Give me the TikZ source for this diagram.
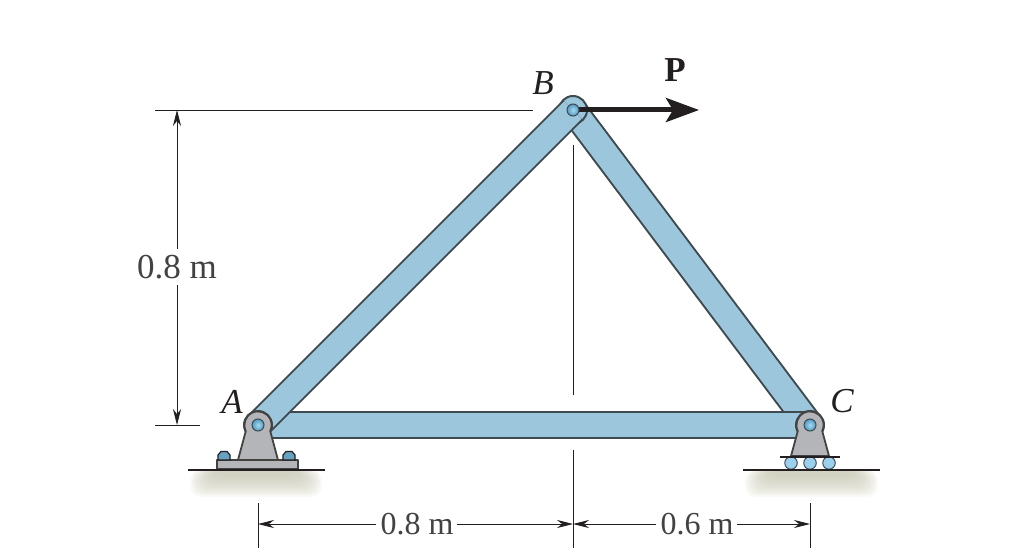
\documentclass[tikz,border=0pt]{standalone}
\usepackage{fontspec}
\setmainfont{Liberation Serif}
\usetikzlibrary{arrows.meta}
\definecolor{barblue}{HTML}{9CC6DB}
\definecolor{barline}{HTML}{3F4A50}
\definecolor{lug}{HTML}{B4B5B8}
\definecolor{ink}{HTML}{231F20}
\definecolor{pinblue}{HTML}{4F9CC4}
\definecolor{pinlight}{HTML}{A8D8EE}
\definecolor{roller}{HTML}{9AD0EE}
\definecolor{groundc}{HTML}{C9C9B4}
\tikzset{
  bar/.style={line width=2pt,draw=barline,double=barblue,double distance=24.5pt},
  joint/.style={circle,minimum size=28pt,inner sep=0pt,fill=barblue,draw=barline,line width=2pt},
  pin/.style={circle,minimum size=12pt,inner sep=0pt,inner color=pinlight,outer color=pinblue,draw=barline,line width=1pt},
  rollernode/.style={circle,minimum size=12.5pt,inner sep=0pt,fill=roller,draw=barline,line width=1pt},
  lugshape/.style={fill=lug,draw=ink!85,line width=1.8pt,line join=round},
  dim/.style={draw=ink,line width=.8pt},
  dimarrow/.style={dim,-{Stealth[length=16pt,width=8pt]}},
  tick/.style={draw=ink,line width=.8pt},
  groundline/.style={draw=ink,line width=2pt},
  lab/.style={font=\fontsize{35}{35}\selectfont\itshape,text=ink,inner sep=0pt},
  dimtext/.style={font=\fontsize{32}{32}\selectfont,text=ink!85,inner sep=0pt},
}
\newcommand{\groundshadow}[3]{%
  \foreach \i in {0,...,11}{
    \fill[groundc,opacity=.11,rounded corners=11pt]
      ({#1+\i*2.2},#3) rectangle ({#2-\i*2.2},{#3+27-\i*1.9});
  }}
\begin{document}
\begin{tikzpicture}[x=1pt,y=-1pt]
\useasboundingbox (0,0) rectangle (1024,553);
\fill[white] (0,0) rectangle (1024,553);
\coordinate (A) at (258,425);
\coordinate (B) at (573,110);
\coordinate (C) at (810,425);

% reference lines behind the truss
\coordinate (topL) at (155,110);
\coordinate (topR) at (533,110);
\coordinate (botL) at (155,425);
\coordinate (botR) at (200,425);
\coordinate (mid1) at (573,145);
\coordinate (mid2) at (573,395);
\draw[tick] (topL) -- (topR);
\draw[tick] (botL) -- (botR);
\draw[tick] (mid1) -- (mid2);

% ground shadows
\groundshadow{190}{322}{470}
\groundshadow{745}{878}{470}

% truss bars
\draw[bar] (B) -- (C);
\node[joint] (jB) at (B) {};
\draw[bar] (A) -- (C);
\node[joint] (jC) at (C) {};
\draw[bar] (A) -- (B);
\node[joint] (jA) at (A) {};

% support A
\draw[lugshape] (217,460) rectangle (298,469);
\foreach \x/\n in {224/ba,289/bb}{
  \draw[fill=pinblue!75!lug,draw=ink,line width=1.2pt] ({\x-6},460) -- ({\x-6},455) -- ({\x-3},451.5) -- ({\x+3},451.5) -- ({\x+6},455) -- ({\x+6},460) -- cycle;
}
\draw[lugshape] (238,460) -- (245.8,431) arc[start angle=153.8,end angle=386.2,radius=13.6] -- (278,460) -- cycle;
\node[pin] (pinA) at (A) {};

% support C
\draw[lugshape] (791,456) -- (797.8,431) arc[start angle=153.8,end angle=386.2,radius=13.6] -- (829,456) -- cycle;
\node[pin] (pinC) at (C) {};
\node[rollernode] (r1) at (791,463) {};
\node[rollernode] (r2) at (810,463) {};
\node[rollernode] (r3) at (829,463) {};
\coordinate (platL) at (780,456.5);
\coordinate (platR) at (840,456.5);
\draw[draw=ink,line width=2pt] (platL) -- (platR);

% ground lines
\coordinate (gA1) at (188,470);
\coordinate (gA2) at (325,470);
\coordinate (gC1) at (743,470);
\coordinate (gC2) at (880,470);
\draw[groundline] (gA1) -- (gA2);
\draw[groundline] (gC1) -- (gC2);

% load P
\coordinate (Ptip) at (699,110);
\draw[draw=ink,line width=5pt,-{Stealth[length=33pt,width=24pt,inset=7pt]}] (B) -- (Ptip);
\node[pin] (pinB) at (B) {};
\node[font=\fontsize{35}{35}\selectfont\bfseries,text=ink,inner sep=0pt] (Plab) at (675,70) {P};

% labels
\node[lab] (labA) at (232,402) {A};
\node[lab] (labB) at (543,83) {B};
\node[lab] (labC) at (842,401) {C};

% vertical dimension
\coordinate (vTop) at (177,110);
\coordinate (vBot) at (177,425);
\node[dimtext,font=\fontsize{35}{35}\selectfont,inner ysep=6pt] (dv) at (177,267) {0.8 m};
\draw[dimarrow] (dv.north) -- (vTop);
\draw[dimarrow] (dv.south) -- (vBot);

% horizontal dimensions
\coordinate (t1a) at (258,503);
\coordinate (t1b) at (258,548);
\coordinate (t2a) at (573,450);
\coordinate (t2b) at (573,548);
\coordinate (t3a) at (810,503);
\coordinate (t3b) at (810,548);
\draw[tick] (t1a) -- (t1b);
\draw[tick] (t2a) -- (t2b);
\draw[tick] (t3a) -- (t3b);
\coordinate (h1) at (258,524);
\coordinate (h2) at (573,524);
\coordinate (h3) at (810,524);
\node[dimtext] (d1) at (417,524) {0.8 m};
\node[dimtext] (d2) at (697,524) {0.6 m};
\draw[dimarrow] ([xshift=-4pt]d1.west) -- (h1);
\draw[dimarrow] ([xshift=3pt]d1.east) -- (h2);
\draw[dimarrow] ([xshift=-4pt]d2.west) -- (h2);
\draw[dimarrow] ([xshift=3pt]d2.east) -- (h3);
\end{tikzpicture}
\end{document}
